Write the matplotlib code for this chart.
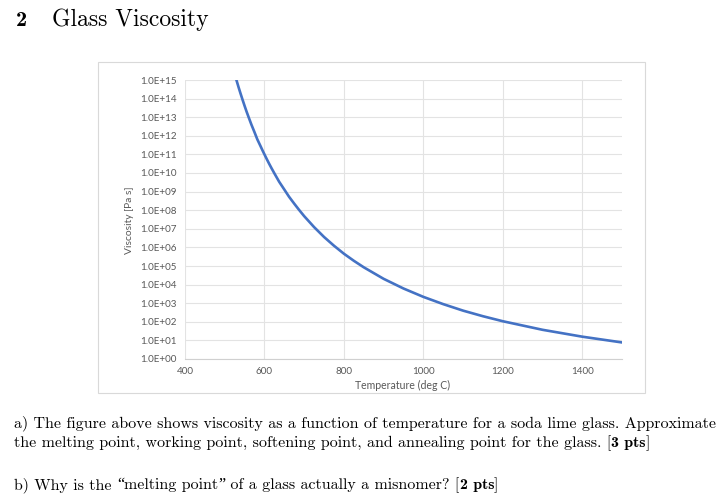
#!/usr/bin/env python3
"""Glass viscosity homework figure: Excel-style log chart plus question text."""

import matplotlib
matplotlib.use('Agg')
import matplotlib.pyplot as plt
from matplotlib.patches import Rectangle

# Values
temperature = [530, 535, 540, 545, 550, 555, 560, 567, 575, 582, 590, 595, 600, 606,
               612, 618, 625, 637, 650, 662, 675, 687, 700, 725, 750, 775, 800, 825,
               850, 900, 950, 1000, 1050, 1100, 1150, 1200, 1300, 1400, 1500]
log_viscosity = [14.96, 14.60, 14.26, 13.93, 13.61, 13.30, 13.01, 12.61, 12.19, 11.81,
                 11.45, 11.22, 11.0, 10.74, 10.49, 10.25, 9.98, 9.53, 9.11, 8.72,
                 8.35, 8.02, 7.68, 7.09, 6.56, 6.09, 5.66, 5.28, 4.93, 4.31, 3.79,
                 3.34, 2.95, 2.60, 2.30, 2.03, 1.57, 1.20, 0.89]
x_ticks = [400, 600, 800, 1000, 1200, 1400]
y_ticks = [10.0 ** k for k in range(16)]

W, H = 724, 503
fig = plt.figure(figsize=(W / 100, H / 100), dpi=100)

plt.rcParams['mathtext.fontset'] = 'cm'
serif = 'cmr10'
bold_serif = 'cmb10'
chart_font = 'Lato'
grey = '#595959'


def px(x, y):
    return x / W, 1 - y / H


renderer = fig.canvas.get_renderer()


def write_line(x, y, parts, size):
    """Draw text pieces one after another on one baseline."""
    for text, family in parts:
        t = fig.text(*px(x, y), text, family=family, fontsize=size, va='baseline')
        x = t.get_window_extent(renderer).x1
    return x


# Section header
fig.text(*px(16, 26), '2', family=bold_serif, fontsize=16, va='baseline')
fig.text(*px(52, 26), 'Glass Viscosity', family=serif, fontsize=17, va='baseline')

# Chart frame
left_px, top_px, right_px, bottom_px = 98, 62, 645, 393
fig.patches.append(Rectangle(px(left_px, bottom_px),
                             (right_px - left_px) / W, (bottom_px - top_px) / H,
                             transform=fig.transFigure, fill=False,
                             edgecolor='#D9D9D9', linewidth=0.8))

# Plot area
x0, x1, y0, y1 = 185, 622, 80, 359
ax = fig.add_axes([x0 / W, 1 - y1 / H, (x1 - x0) / W, (y1 - y0) / H])
ax.plot(temperature, [10.0 ** v for v in log_viscosity], color='#4472C4',
        linewidth=1.9, solid_joinstyle='round')
ax.set_yscale('log')
ax.set_xlim(400, 1500)
ax.set_ylim(1, 1e15)
ax.set_xticks(x_ticks)
ax.set_xticklabels([str(t) for t in x_ticks])
ax.set_yticks(y_ticks)
ax.set_yticklabels([f'{v:.1E}' for v in y_ticks])
ax.yaxis.set_minor_locator(matplotlib.ticker.NullLocator())
ax.tick_params(length=0, labelsize=7.1, labelcolor=grey)
ax.tick_params(axis='y', pad=6)
ax.tick_params(axis='x', pad=6)
for lab in ax.get_xticklabels() + ax.get_yticklabels():
    lab.set_family(chart_font)
ax.grid(True, color='#E3E3E3', linewidth=0.8)
ax.set_axisbelow(True)
for side in ['top', 'right', 'left']:
    ax.spines[side].set_visible(False)
ax.spines['bottom'].set_color('#D0D0D0')
ax.spines['bottom'].set_linewidth(0.8)

fig.text(*px(403, 385), 'Temperature (deg C)', family=chart_font, fontsize=7.6,
         color=grey, ha='center', va='center')
fig.text(*px(130, 220), 'Viscosity [Pa s]', family=chart_font, fontsize=7.4,
         color=grey, ha='center', va='center', rotation=90)

# Question text
q_size = 11.5
write_line(14, 427, [('a) The figure above shows viscosity as a function of temperature '
                      'for a soda lime glass. Approximate', serif)], q_size)
write_line(14, 447, [('the melting point, working point, softening point, and annealing '
                      'point for the glass. [', serif), ('3 pts', bold_serif),
                     (']', serif)], q_size)
write_line(14, 489, [('b) Why is the ', serif), ('\u201c', 'Liberation Serif'),
                     ('melting point', serif), ('\u201d', 'Liberation Serif'),
                     (' of a glass actually a misnomer? [', serif), ('2 pts', bold_serif),
                     (']', serif)], q_size)

fig.savefig('out.png', dpi=100)
